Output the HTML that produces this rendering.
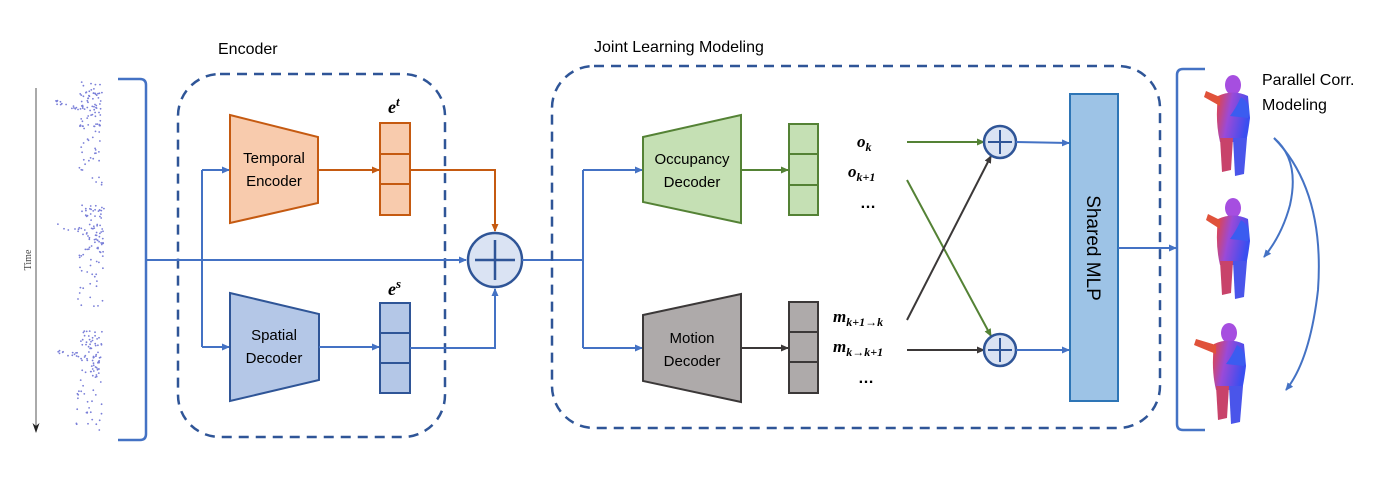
<!DOCTYPE html>
<html><head><meta charset="utf-8"><style>
html,body{margin:0;padding:0;background:#fff;width:1392px;height:480px;overflow:hidden}
svg text{font-family:"Liberation Sans",sans-serif}
.m{font-family:"Liberation Serif",serif;font-weight:bold;font-style:italic}
</style></head><body>
<svg id="s" width="1392" height="480" viewBox="0 0 1392 480" xmlns="http://www.w3.org/2000/svg">
<defs>
<marker id="ab" markerWidth="8" markerHeight="8" refX="7" refY="4" orient="auto" markerUnits="userSpaceOnUse"><path d="M0,0.5 L8,4 L0,7.5z" fill="#4472c4"/></marker>
<marker id="ao" markerWidth="8" markerHeight="8" refX="7" refY="4" orient="auto" markerUnits="userSpaceOnUse"><path d="M0,0.5 L8,4 L0,7.5z" fill="#c55a11"/></marker>
<marker id="ag" markerWidth="8" markerHeight="8" refX="7" refY="4" orient="auto" markerUnits="userSpaceOnUse"><path d="M0,0.5 L8,4 L0,7.5z" fill="#548235"/></marker>
<marker id="ad" markerWidth="8" markerHeight="8" refX="7" refY="4" orient="auto" markerUnits="userSpaceOnUse"><path d="M0,0.5 L8,4 L0,7.5z" fill="#3b3838"/></marker>
<marker id="ak" markerWidth="8" markerHeight="10" refX="4" refY="9" orient="0" markerUnits="userSpaceOnUse"><path d="M0.5,0 L4,10 L7.5,0 L4,3z" fill="#222"/></marker>
<linearGradient id="hg" x1="0" y1="0" x2="1" y2="0.3"><stop offset="0" stop-color="#e8443a"/><stop offset="0.45" stop-color="#9a4ad8"/><stop offset="1" stop-color="#3a4ef0"/></linearGradient>
</defs>
<line x1="36" y1="88" x2="36" y2="432" stroke="#555" stroke-width="1" marker-end="url(#ak)"/>
<text x="0" y="0" font-size="10" fill="#444" transform="translate(31,260) rotate(-90)" text-anchor="middle" style="font-family:'Liberation Serif',serif">Time</text>
<g id="pc"></g>
<path d="M118,79 L140,79 Q146,79 146,85 L146,434 Q146,440 140,440 L118,440" fill="none" stroke="#4472c4" stroke-width="2.5"/>
<rect x="178" y="74" width="267" height="363" rx="42" fill="none" stroke="#2f5597" stroke-width="2.5" stroke-dasharray="10,7"/>
<text x="218" y="54" font-size="16" fill="#000">Encoder</text>
<line x1="146" y1="260" x2="466" y2="260" stroke="#4472c4" stroke-width="2" marker-end="url(#ab)"/>
<path d="M202,170 L202,347" stroke="#4472c4" stroke-width="2" fill="none"/>
<line x1="202" y1="170" x2="229" y2="170" stroke="#4472c4" stroke-width="2" marker-end="url(#ab)"/>
<line x1="202" y1="347" x2="229" y2="347" stroke="#4472c4" stroke-width="2" marker-end="url(#ab)"/>
<polygon points="230,115 318,137 318,203 230,223" fill="#f8cbad" stroke="#c55a11" stroke-width="2"/>
<text x="274" y="163" font-size="15" text-anchor="middle">Temporal</text>
<text x="274" y="186" font-size="15" text-anchor="middle">Encoder</text>
<line x1="318" y1="170" x2="379" y2="170" stroke="#c55a11" stroke-width="2" marker-end="url(#ao)"/>
<rect x="380" y="123" width="30" height="92" fill="#f8cbad" stroke="#c55a11" stroke-width="2"/>
<line x1="380" y1="154" x2="410" y2="154" stroke="#c55a11" stroke-width="2"/><line x1="380" y1="184" x2="410" y2="184" stroke="#c55a11" stroke-width="2"/>
<text x="388" y="113" font-size="18" class="m">e<tspan font-size="13" dy="-7">t</tspan></text>
<path d="M410,170 L495,170 L495,231" fill="none" stroke="#c55a11" stroke-width="2" marker-end="url(#ao)"/>
<polygon points="230,293 319,314 319,380 230,401" fill="#b4c7e7" stroke="#2f5597" stroke-width="2"/>
<text x="274" y="340" font-size="15" text-anchor="middle">Spatial</text>
<text x="274" y="363" font-size="15" text-anchor="middle">Decoder</text>
<line x1="319" y1="347" x2="379" y2="347" stroke="#4472c4" stroke-width="2" marker-end="url(#ab)"/>
<rect x="380" y="303" width="30" height="90" fill="#b4c7e7" stroke="#2f5597" stroke-width="2"/>
<line x1="380" y1="333" x2="410" y2="333" stroke="#2f5597" stroke-width="2"/><line x1="380" y1="363" x2="410" y2="363" stroke="#2f5597" stroke-width="2"/>
<text x="388" y="295" font-size="18" class="m">e<tspan font-size="13" dy="-7">s</tspan></text>
<path d="M410,348 L495,348 L495,289" fill="none" stroke="#4472c4" stroke-width="2" marker-end="url(#ab)"/>
<circle cx="495" cy="260" r="27" fill="#dae3f3" stroke="#2f5597" stroke-width="2.5"/>
<line x1="475" y1="260" x2="515" y2="260" stroke="#2f5597" stroke-width="2.5"/><line x1="495" y1="240" x2="495" y2="280" stroke="#2f5597" stroke-width="2.5"/>
<line x1="522" y1="260" x2="583" y2="260" stroke="#4472c4" stroke-width="2"/>
<rect x="552" y="66" width="608" height="362" rx="42" fill="none" stroke="#2f5597" stroke-width="2.5" stroke-dasharray="10,7"/>
<text x="594" y="52" font-size="16">Joint Learning Modeling</text>
<path d="M583,170 L583,348" stroke="#4472c4" stroke-width="2" fill="none"/>
<line x1="583" y1="170" x2="642" y2="170" stroke="#4472c4" stroke-width="2" marker-end="url(#ab)"/>
<line x1="583" y1="348" x2="642" y2="348" stroke="#4472c4" stroke-width="2" marker-end="url(#ab)"/>
<polygon points="643,137 741,115 741,223 643,202" fill="#c5e0b4" stroke="#548235" stroke-width="2"/>
<text x="692" y="164" font-size="15" text-anchor="middle">Occupancy</text>
<text x="692" y="187" font-size="15" text-anchor="middle">Decoder</text>
<line x1="741" y1="170" x2="788" y2="170" stroke="#548235" stroke-width="2" marker-end="url(#ag)"/>
<rect x="789" y="124" width="29" height="91" fill="#c5e0b4" stroke="#548235" stroke-width="2"/>
<line x1="789" y1="154" x2="818" y2="154" stroke="#548235" stroke-width="2"/><line x1="789" y1="185" x2="818" y2="185" stroke="#548235" stroke-width="2"/>
<polygon points="643,315 741,294 741,402 643,381" fill="#aeaaaa" stroke="#3b3838" stroke-width="2"/>
<text x="692" y="343" font-size="15" text-anchor="middle">Motion</text>
<text x="692" y="366" font-size="15" text-anchor="middle">Decoder</text>
<line x1="741" y1="348" x2="788" y2="348" stroke="#3b3838" stroke-width="2" marker-end="url(#ad)"/>
<rect x="789" y="302" width="29" height="91" fill="#aeaaaa" stroke="#3b3838" stroke-width="2"/>
<line x1="789" y1="332" x2="818" y2="332" stroke="#3b3838" stroke-width="2"/><line x1="789" y1="362" x2="818" y2="362" stroke="#3b3838" stroke-width="2"/>
<text x="857" y="147" font-size="17" class="m">o<tspan font-size="12" dy="4">k</tspan></text>
<text x="848" y="177" font-size="17" class="m">o<tspan font-size="12" dy="4">k+1</tspan></text>
<text x="860" y="208" font-size="16" font-weight="bold">…</text>
<text x="833" y="322" font-size="17" class="m">m<tspan font-size="12" dy="4">k+1→k</tspan></text>
<text x="833" y="352" font-size="17" class="m">m<tspan font-size="12" dy="4">k→k+1</tspan></text>
<text x="858" y="383" font-size="16" font-weight="bold">…</text>
<line x1="907" y1="142" x2="984" y2="142" stroke="#548235" stroke-width="2" marker-end="url(#ag)"/>
<line x1="907" y1="180" x2="991" y2="336" stroke="#548235" stroke-width="2" marker-end="url(#ag)"/>
<line x1="907" y1="320" x2="991" y2="156" stroke="#3b3838" stroke-width="2" marker-end="url(#ad)"/>
<line x1="907" y1="350" x2="984" y2="350" stroke="#3b3838" stroke-width="2" marker-end="url(#ad)"/>
<circle cx="1000" cy="142" r="16" fill="#dae3f3" stroke="#2f5597" stroke-width="2.5"/>
<line x1="988" y1="142" x2="1012" y2="142" stroke="#2f5597" stroke-width="2"/><line x1="1000" y1="130" x2="1000" y2="154" stroke="#2f5597" stroke-width="2"/>
<circle cx="1000" cy="350" r="16" fill="#dae3f3" stroke="#2f5597" stroke-width="2.5"/>
<line x1="988" y1="350" x2="1012" y2="350" stroke="#2f5597" stroke-width="2"/><line x1="1000" y1="338" x2="1000" y2="362" stroke="#2f5597" stroke-width="2"/>
<line x1="1016" y1="142" x2="1069" y2="143" stroke="#4472c4" stroke-width="2" marker-end="url(#ab)"/>
<line x1="1016" y1="350" x2="1069" y2="350" stroke="#4472c4" stroke-width="2" marker-end="url(#ab)"/>
<rect x="1070" y="94" width="48" height="307" fill="#9dc3e6" stroke="#2e75b6" stroke-width="2"/>
<text x="0" y="0" font-size="19" text-anchor="middle" transform="translate(1087,248) rotate(90)">Shared MLP</text>
<line x1="1118" y1="248" x2="1176" y2="248" stroke="#4472c4" stroke-width="2" marker-end="url(#ab)"/>
<path d="M1205,69 L1183,69 Q1177,69 1177,75 L1177,424 Q1177,430 1183,430 L1205,430" fill="none" stroke="#4472c4" stroke-width="2.5"/>
<text x="1262" y="85" font-size="16">Parallel Corr.</text>
<text x="1262" y="110" font-size="16">Modeling</text>
<g id="hum"></g>
<path d="M1274,138 Q1300,160 1290,205 Q1282,235 1264,257" fill="none" stroke="#4472c4" stroke-width="2" marker-end="url(#ab)"/>
<path d="M1274,138 Q1325,190 1318,290 Q1310,360 1286,390" fill="none" stroke="#4472c4" stroke-width="2" marker-end="url(#ab)"/>
</svg>
<script>
var NS="http://www.w3.org/2000/svg";
var seed=7;function r(){seed=(seed*16807)%2147483647;return seed/2147483647;}
var pc=document.getElementById("pc");
function dot(x,y){var c=document.createElementNS(NS,"circle");c.setAttribute("cx",x.toFixed(1));c.setAttribute("cy",y.toFixed(1));c.setAttribute("r","0.9");c.setAttribute("fill","#7a7fd8");pc.appendChild(c);}
function cloud(ox,oy,arm){
 for(var i=0;i<70;i++){dot(ox+80+r()*22,oy+r()*48);}
 for(var i=0;i<28;i++){dot(ox+76+r()*26,oy+48+r()*55);}
 for(var i=0;i<arm;i++){var t=r();dot(ox+55+t*28,oy+18+t*6+r()*5);}
}
cloud(0,82,18);cloud(2,205,9);cloud(0,330,14);
var h=document.getElementById("hum");
function human(x,y,armExt){
 var s='<g transform="translate('+x+','+y+')">'+
 '<ellipse cx="33" cy="9" rx="8" ry="10" fill="#a64ee0"/>'+
 '<path d="M18,20 Q33,13 48,20 L50,42 Q48,58 46,66 L20,66 Q15,45 18,20z" fill="url(#hg)"/>'+
 '<path d="M20,21 L'+(6-armExt)+',15 L'+(4-armExt)+',21 L20,30z" fill="#e0523a"/>'+
 '<path d="M41,21 Q52,28 48,42 L30,40 Q36,32 41,21z" fill="#3b5cf0"/>'+
 '<path d="M20,62 L33,62 L31,94 L22,96z" fill="#c8436a"/>'+
 '<path d="M33,62 L47,62 L44,98 L35,100z" fill="#4a55ea"/>'+
 '</g>';h.innerHTML+=s;}
human(1200,76,0);human(1200,199,-2);human(1196,324,6);
</script>
</body></html>
